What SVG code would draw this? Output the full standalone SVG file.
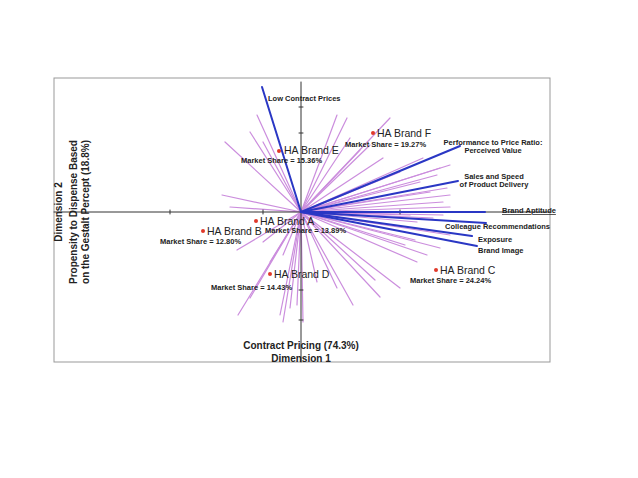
<svg xmlns="http://www.w3.org/2000/svg" width="638" height="478" viewBox="0 0 638 478">
<style>
.t{font-family:"Liberation Sans",Arial,sans-serif;font-weight:bold;fill:#222}
.ms{font-size:7.5px}
.br{font-size:10.5px;font-weight:normal}
.v{font-size:7.5px}
.p{stroke:#c37ad8;stroke-width:1.2;opacity:0.85}
.b{stroke:#2a37c4;stroke-width:2}
.dot{fill:#e0382a}
</style>
<rect width="638" height="478" fill="#fff"/>
<rect x="54" y="78" width="496" height="284" fill="none" stroke="#999" stroke-width="1"/>
<g id="connectors" stroke-linecap="round">
<g class="p">
<line x1="301" y1="212" x2="257" y2="115"/><line x1="301" y1="212" x2="250" y2="132"/>
<line x1="301" y1="212" x2="225" y2="142"/><line x1="301" y1="212" x2="263" y2="142"/>
<line x1="301" y1="212" x2="222" y2="195"/><line x1="301" y1="212" x2="230" y2="207"/>
<line x1="301" y1="212" x2="238" y2="315"/><line x1="301" y1="212" x2="250" y2="298"/>
<line x1="301" y1="212" x2="283" y2="322"/><line x1="301" y1="212" x2="280" y2="315"/>
<line x1="301" y1="212" x2="290" y2="308"/><line x1="301" y1="212" x2="297" y2="305"/>
<line x1="301" y1="212" x2="303" y2="322"/><line x1="301" y1="212" x2="337" y2="115"/>
<line x1="301" y1="212" x2="347" y2="118"/><line x1="301" y1="212" x2="390" y2="118"/>
<line x1="301" y1="212" x2="350" y2="138"/><line x1="301" y1="212" x2="370" y2="145"/>
<line x1="301" y1="212" x2="450" y2="165"/><line x1="301" y1="212" x2="440" y2="168"/>
<line x1="301" y1="212" x2="437" y2="175"/><line x1="301" y1="212" x2="447" y2="188"/>
<line x1="301" y1="212" x2="450" y2="195"/><line x1="301" y1="212" x2="443" y2="202"/>
<line x1="301" y1="212" x2="450" y2="207"/><line x1="301" y1="212" x2="440" y2="232"/>
<line x1="301" y1="212" x2="450" y2="235"/><line x1="301" y1="212" x2="440" y2="248"/>
<line x1="301" y1="212" x2="427" y2="255"/><line x1="301" y1="212" x2="417" y2="262"/>
<line x1="301" y1="212" x2="400" y2="288"/><line x1="301" y1="212" x2="380" y2="297"/>
<line x1="301" y1="212" x2="353" y2="305"/><line x1="301" y1="212" x2="337" y2="288"/>
<line x1="301" y1="212" x2="317" y2="282"/><line x1="301" y1="212" x2="263" y2="242"/>
<line x1="301" y1="212" x2="237" y2="250"/><line x1="301" y1="212" x2="270" y2="262"/>
<line x1="301" y1="212" x2="283" y2="255"/><line x1="301" y1="212" x2="417" y2="222"/>
<line x1="301" y1="212" x2="433" y2="218"/><line x1="301" y1="212" x2="410" y2="215"/>
<line x1="301" y1="212" x2="423" y2="158"/><line x1="301" y1="212" x2="383" y2="158"/>
<line x1="301" y1="212" x2="400" y2="172"/><line x1="301" y1="212" x2="443" y2="215"/>
<line x1="301" y1="212" x2="420" y2="182"/><line x1="301" y1="212" x2="430" y2="192"/>
<line x1="301" y1="212" x2="415" y2="240"/><line x1="301" y1="212" x2="405" y2="245"/>
<line x1="301" y1="212" x2="360" y2="150"/><line x1="301" y1="212" x2="375" y2="280"/>
</g>
<g stroke="#333" stroke-width="1">
<line x1="54" y1="212" x2="550" y2="212"/>
<line x1="301" y1="82" x2="301" y2="362"/>
<line x1="170" y1="210" x2="170" y2="214"/><line x1="263" y1="210" x2="263" y2="214"/><line x1="400" y1="210" x2="400" y2="214"/>
<line x1="299" y1="107" x2="303" y2="107"/><line x1="299" y1="133" x2="303" y2="133"/><line x1="299" y1="290" x2="303" y2="290"/><line x1="299" y1="320" x2="303" y2="320"/>
</g>
<g class="b">
<line x1="301" y1="212" x2="262" y2="87"/>
<line x1="301" y1="212" x2="460" y2="146"/>
<line x1="301" y1="212" x2="458" y2="181"/>
<line x1="301" y1="212" x2="485" y2="212"/>
<line x1="301" y1="212" x2="486" y2="223"/>
<line x1="301" y1="212" x2="472" y2="236"/>
<line x1="301" y1="212" x2="477" y2="246"/>
</g>
</g>
<g id="vectors" class="t">
<text x="268" y="101" class="v">Low Contract Prices</text>
<text x="493" y="145" class="v" text-anchor="middle">Performance to Price Ratio:</text>
<text x="493" y="153" class="v" text-anchor="middle">Perceived Value</text>
<text x="494" y="179" class="v" text-anchor="middle">Sales and Speed</text>
<text x="494" y="187" class="v" text-anchor="middle">of Product Delivery</text>
<text x="502" y="213" class="v" text-decoration="underline">Brand Aptitude</text>
<text x="445" y="229" class="v">Colleague Recommendations</text>
<text x="478" y="242" class="v">Exposure</text>
<text x="478" y="253" class="v">Brand Image</text>
</g>
<g id="brandF" class="t"><circle class="dot" cx="373" cy="133" r="2"/><text x="377" y="137" class="br">HA Brand F</text><text x="345" y="147" class="ms">Market Share = 19.27%</text></g>
<g id="brandE" class="t"><circle class="dot" cx="279" cy="151" r="2"/><text x="284" y="154" class="br">HA Brand E</text><text x="241" y="163" class="ms">Market Share = 15.36%</text></g>
<g id="brandA" class="t"><circle class="dot" cx="256" cy="221" r="2"/><text x="260" y="225" class="br">HA Brand A</text><text x="265" y="233" class="ms">Market Share = 13.89%</text></g>
<g id="brandB" class="t"><circle class="dot" cx="203" cy="231" r="2"/><text x="207" y="235" class="br">HA Brand B</text><text x="160" y="244" class="ms">Market Share = 12.80%</text></g>
<g id="brandD" class="t"><circle class="dot" cx="270" cy="274" r="2"/><text x="274" y="278" class="br">HA Brand D</text><text x="211" y="290" class="ms">Market Share = 14.43%</text></g>
<g id="brandC" class="t"><circle class="dot" cx="436" cy="270" r="2"/><text x="440" y="274" class="br">HA Brand C</text><text x="410" y="283" class="ms">Market Share = 24.24%</text></g>
<g id="axes" class="t" font-size="10">
<text x="301" y="349" text-anchor="middle">Contract Pricing (74.3%)</text>
<text x="301" y="362" text-anchor="middle">Dimension 1</text>
<text transform="translate(62,212) rotate(-90)" text-anchor="middle">Dimension 2</text>
<text transform="translate(77,212) rotate(-90)" text-anchor="middle">Propensity to Dispense Based</text>
<text transform="translate(89,212) rotate(-90)" text-anchor="middle">on the Gestalt Percept (18.8%)</text>
</g>
</svg>
